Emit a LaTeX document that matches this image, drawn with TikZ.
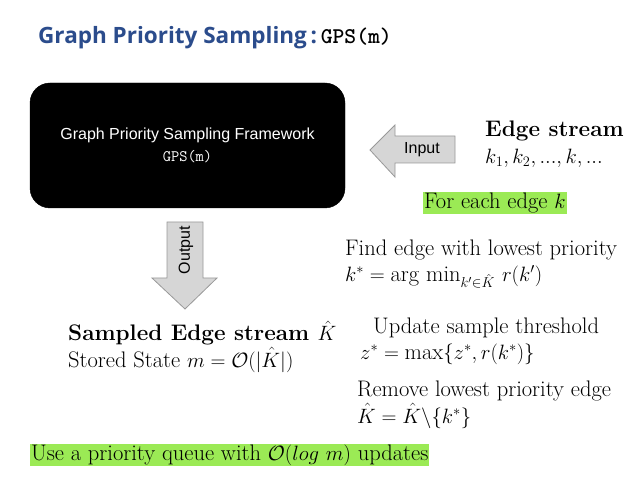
\documentclass[tikz,border=0pt]{standalone}
\usepackage{fontspec}
\usepackage{amsmath}
\newfontfamily\titlefont{Open Sans}
\newfontfamily\arialfont{Liberation Sans}
\definecolor{titleblue}{HTML}{2B4C8C}
\definecolor{hlgreen}{HTML}{9BEA55}
\definecolor{arrowgray}{HTML}{D6D6D6}
\begin{document}
\begin{tikzpicture}[x=1pt,y=-1pt,
  txt/.style={anchor=west,inner sep=0pt,font=\fontsize{22.5}{26}\selectfont},
  hl/.style={txt,fill=hlgreen,inner sep=1pt},
  arr/.style={fill=arrowgray,draw=gray!80,line width=0.8pt}]
\useasboundingbox (0,0) rectangle (638,478);
\node[anchor=west,inner sep=0pt,text=titleblue,font=\titlefont\fontsize{22.5}{26}\selectfont\bfseries] (title) at (38,38)
  {Graph Priority Sampling\,:\,{\color{black}\ttfamily\bfseries GPS(m)}};
\node[draw=black,fill=black,rounded corners=20pt,minimum width=315pt,minimum height=125pt,
  text=white,align=center,font=\arialfont\fontsize{16}{22}\selectfont] (box) at (187.5,145.5)
  {Graph Priority Sampling Framework\\{\ttfamily GPS(m)}};
% input arrow
\draw[arr] (370,150) -- (395,125) -- (395,136) -- (455,136) -- (455,163) -- (395,163) -- (395,177) -- cycle;
\node[font=\arialfont\fontsize{16}{18}\selectfont] (input) at (422,149.5) {Input};
% output arrow
\draw[arr] (167,222) -- (203,222) -- (203,278) -- (217,278) -- (185,309) -- (152,278) -- (167,278) -- cycle;
\node[rotate=90,font=\arialfont\fontsize{16}{18}\selectfont] (output) at (186,250) {Output};
\node[txt] (es) at (485,131) {\bfseries Edge stream};
\node[txt] (ks) at (485,158) {$k_1,k_2,...,k,...$};
\node[hl] (fe) at (423,203) {For each edge $k$};
\node[txt] (fd) at (345,250) {Find edge with lowest priority};
\node[txt] (fm) at (345,277) {$k^*=\arg\,\min_{k'\in\hat K}\, r(k')$};
\node[txt] (se) at (68,333) {\bfseries Sampled Edge stream $\hat K$};
\node[txt] (ss) at (68,360) {Stored State $m=\mathcal{O}(|\hat K|)$};
\node[txt] (us) at (373,328) {Update sample threshold};
\node[txt] (um) at (360,354) {$z^*=\max\{z^*,r(k^*)\}$};
\node[txt] (rl) at (357,391) {Remove lowest priority edge};
\node[txt] (rm) at (357,416) {$\hat K=\hat K\backslash\{k^*\}$};
\node[hl] (pq) at (30,455) {Use a priority queue with $\mathcal{O}(log\ m)$ updates};
\end{tikzpicture}
\end{document}
